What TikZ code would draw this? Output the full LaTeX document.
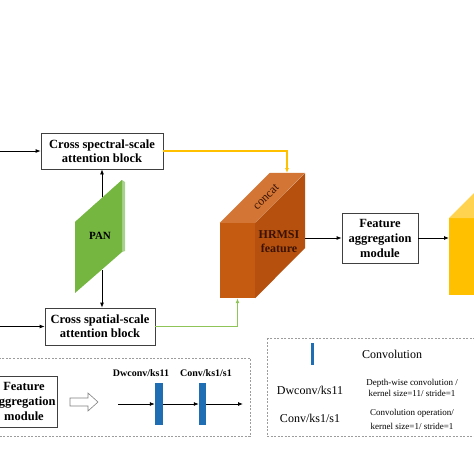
\documentclass[tikz,border=0pt]{standalone}
\usepackage{fontspec}
\setmainfont{Liberation Serif}
\usetikzlibrary{calc}
\usetikzlibrary{arrows.meta}
\definecolor{boxgray}{HTML}{404040}
\definecolor{dashgray}{HTML}{9C9C9C}
\definecolor{pangreen}{HTML}{74B640}
\definecolor{panlight}{HTML}{A9D18E}
\definecolor{hrfront}{HTML}{C55A11}
\definecolor{hrtop}{HTML}{D27535}
\definecolor{hrside}{HTML}{B6500F}
\definecolor{hrtext}{HTML}{3A1200}
\definecolor{yel}{HTML}{FFC000}
\definecolor{outtop}{HTML}{FFD34F}
\definecolor{grn}{HTML}{8FC458}
\definecolor{convblue}{HTML}{1F6DB3}

\begin{document}
\begin{tikzpicture}[x=1pt,y=-1pt,
  blk/.style={draw=boxgray,line width=0.8pt,fill=white,align=center,inner sep=0pt,
    font=\fontsize{12.5}{14}\selectfont\bfseries},
  arr/.style={-{Latex[length=5pt,width=4pt]},line width=0.8pt},
  bar/.style={fill=convblue,inner sep=0pt,minimum width=8pt,minimum height=42pt},
  legend/.style={draw=dashgray,dash pattern=on 2pt off 1.5pt,line width=0.6pt},
  small/.style={font=\fontsize{9}{11}\selectfont,align=center}]
\useasboundingbox (0,0) rectangle (474,474);
\clip (0,0) rectangle (474,474);

\node[blk,minimum width=122pt,minimum height=36pt] (spec) at (102,151) {Cross spectral-scale\\attention block};
\node[blk,minimum width=110pt,minimum height=37pt] (spat) at (100,326.5) {Cross spatial-scale\\attention block};
\coordinate (in1) at (0,151);
\coordinate (in2) at (0,326.5);
\draw[arr] (in1) -- (spec);
\draw[arr] (in2) -- (spat);

\fill[panlight] (75,222) -- (122,180) -- (125,182) -- (125,251) -- (122,252) -- cycle;
\fill[pangreen] (75,222) -- (122,180) -- (122,252) -- (75,293) -- cycle;
\node[font=\fontsize{11}{13}\selectfont\bfseries] (pan) at (100,236) {PAN};
\coordinate (panT) at (102,197);
\coordinate (panB) at (102,270);
\draw[arr] (panT) -- (panT |- spec.south);
\draw[arr] (panB) -- (panB |- spat.north);

\node[fill=hrfront,minimum width=35pt,minimum height=75pt,inner sep=0pt] (hr) at (237.5,260.5) {};
\fill[hrtop] (hr.north west) -- ++(50,-50) -- ++(35,0) -- (hr.north east) -- cycle;
\fill[hrside] (hr.north east) -- ++(50,-50) -- ++(0,75) -- (hr.south east) -- cycle;
\node[rotate=45,font=\fontsize{12}{14}\selectfont,text=hrtext] (cc) at (266,197) {concat};
\node[font=\fontsize{12}{14}\selectfont\bfseries,align=center,text=hrtext] (hrl) at (279,242) {HRMSI\\feature};
\coordinate (hrT) at (287,173);
\coordinate (hrR) at (305,238);
\draw[yel,line width=1.2pt,-{Latex[length=5pt,width=4pt]}] (spec.east) -| (hrT);
\draw[grn,line width=1.2pt,-{Latex[length=5pt,width=4pt]}] (spat.east) -| (hr.south);

\node[blk,minimum width=76pt,minimum height=50pt,font=\fontsize{12.5}{15}\selectfont\bfseries] (fam) at (380,238) {Feature\\aggregation\\module};
\node[fill=yel,minimum width=40pt,minimum height=77pt,inner sep=0pt,anchor=north west] (out) at (449,218) {};
\fill[outtop] (out.north west) -- ++(30,-30) -- ++(40,0) -- (out.north east) -- cycle;
\draw[arr] (hrR) -- (fam);
\draw[arr] (fam.east) -- (fam.east -| out.west);

\draw[legend] (-10,358) rectangle (250,436);
\node[blk,minimum width=66pt,minimum height=51pt,font=\fontsize{12.5}{15}\selectfont\bfseries] (fam2) at (24,401.5) {Feature\\aggregation\\module};
\draw[gray,fill=white,line width=0.6pt] (70,398) -- (88,398) -- (88,393) -- (98,402) -- (88,411) -- (88,406) -- (70,406) -- cycle;
\coordinate (l0) at (118,404);
\coordinate (l1) at (243,404);
\node[bar] (b1) at (159,404) {};
\node[bar,minimum width=7pt] (b2) at (202.5,404) {};
\draw[arr] (l0) -- (b1);
\draw[arr] (b1) -- (b2);
\draw[arr] (b2) -- (l1);
\node[font=\fontsize{10}{12}\selectfont\bfseries] (t1) at (141,373) {Dwconv/ks11};
\node[font=\fontsize{10}{12}\selectfont\bfseries] (t2) at (206,373) {Conv/ks1/s1};

\draw[legend] (267,338) rectangle (490,436);
\node[bar,minimum width=3.5pt,minimum height=22pt] (lb) at (312.5,354) {};
\node[font=\fontsize{12}{14}\selectfont] (lc) at (392,354) {Convolution};
\node[font=\fontsize{12}{14}\selectfont] (ld) at (310,390) {Dwconv/ks11};
\node[small] (ldt) at (412,387.5) {Depth-wise convolution /\\kernel size=11/ stride=1};
\node[font=\fontsize{12}{14}\selectfont] (lk) at (310,418) {Conv/ks1/s1};
\node[small] (lkt) at (412,419.5) {Convolution operation/\\[3pt]kernel size=1/ stride=1};
\end{tikzpicture}
\end{document}
